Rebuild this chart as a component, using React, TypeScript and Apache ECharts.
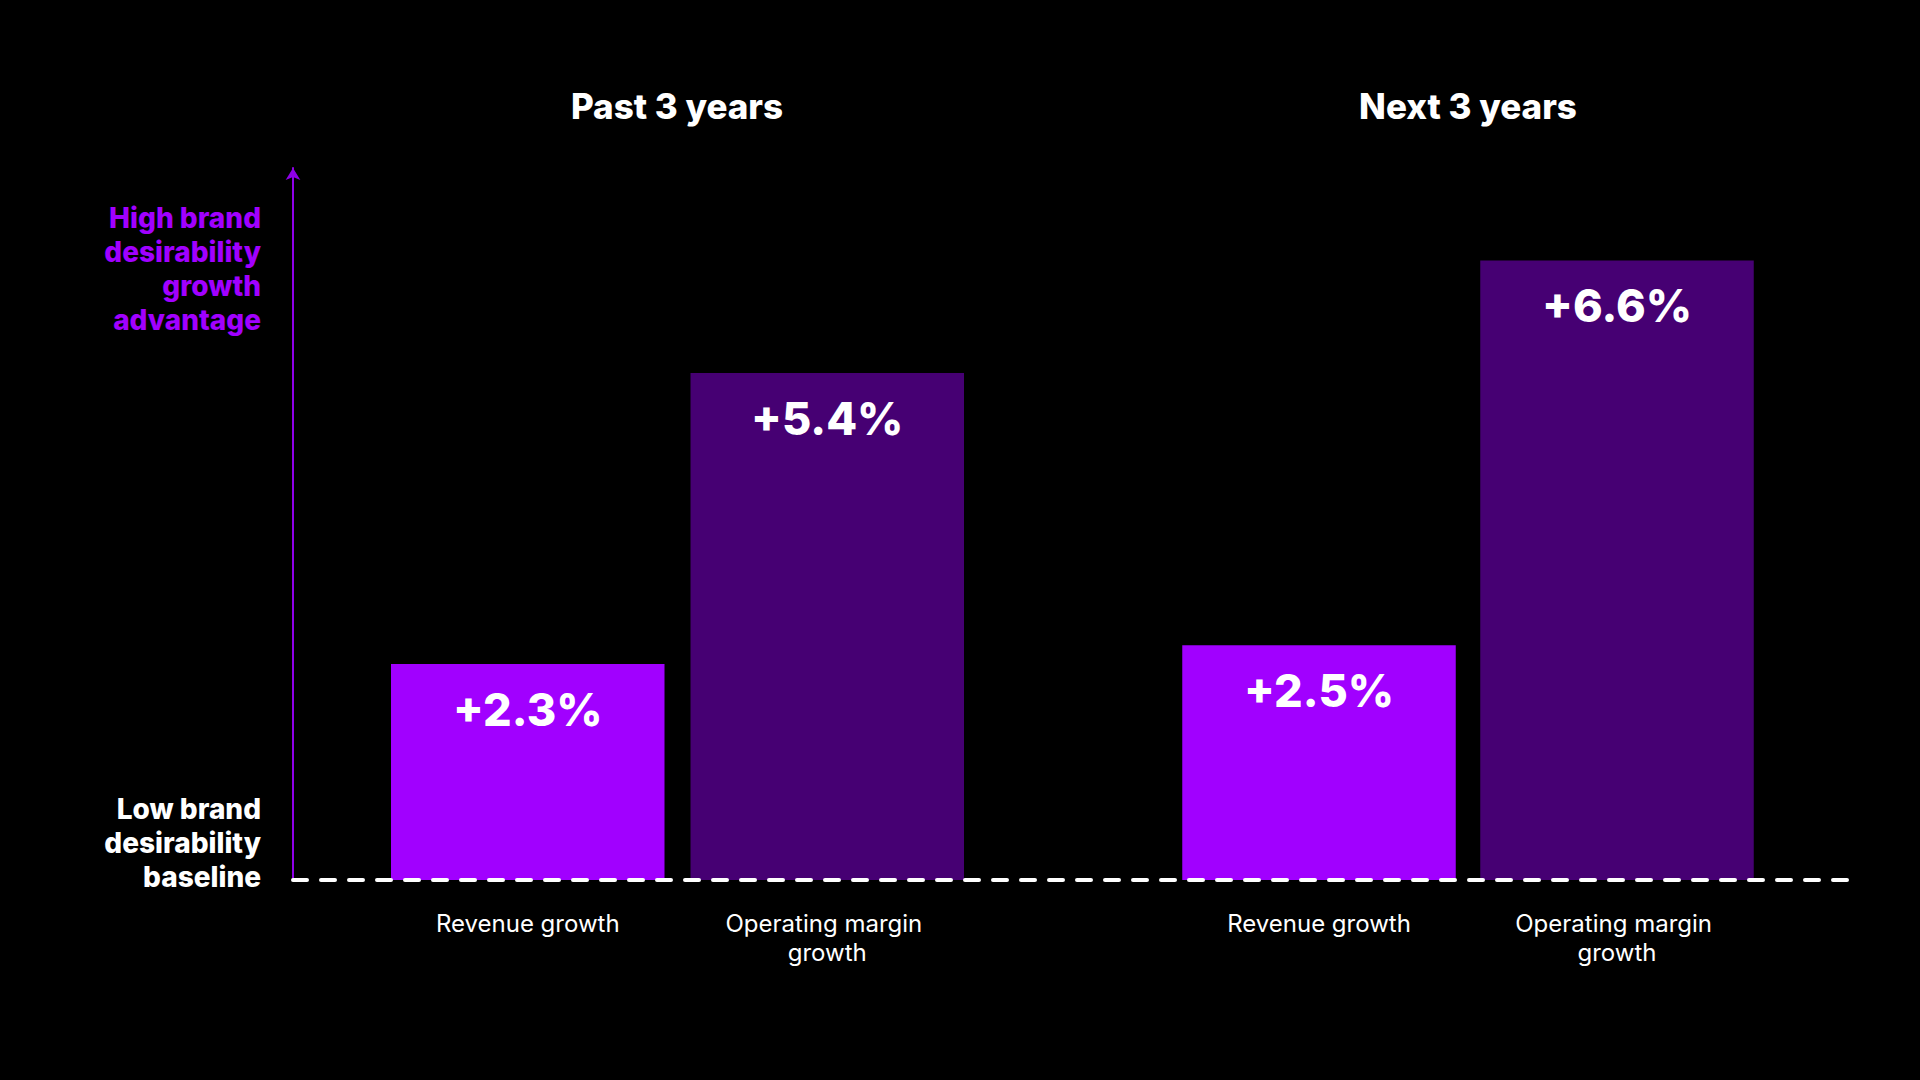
import React, { useEffect, useRef } from "react";
import * as echarts from "echarts";

// ---- data ----
const groups = ["Past 3 years", "Next 3 years"];
const metrics = ["Revenue growth", "Operating margin growth"];
const pastValues = [2.3, 5.4];
const nextValues = [2.5, 6.6];
const metricColors = ["#A100FF", "#460073"];
const highLabelLines = ["High brand", "desirability", "growth", "advantage"];
const lowLabelLines = ["Low brand", "desirability", "baseline"];
const yMax = 7.5;

const BOLD = "Inter, 'Noto Sans', sans-serif";
const REG = "Inter, 'Noto Sans', sans-serif";

export default function App() {
  const ref = useRef<HTMLDivElement>(null);

  useEffect(() => {
    if (!ref.current) return;
    const chart = echarts.init(ref.current, null, { renderer: "svg" });

    const gridTop = 176;
    const gridBottom = 200;

    const barSeries = (vals: number[], idx: number) => ({
      type: "bar",
      name: groups[idx],
      xAxisIndex: idx,
      yAxisIndex: idx,
      barWidth: 273.5,
      data: vals.map((v, i) => ({ value: v, itemStyle: { color: metricColors[i] } })),
      label: {
        show: true,
        position: "insideTop",
        distance: 23,
        color: "#ffffff",
        fontFamily: BOLD,
        fontWeight: 800,
        fontSize: 45,
        formatter: (p: any) => "+" + Number(p.value).toFixed(1) + "%",
      },
      z: 2,
    });

    const catAxis = (gridIndex: number) => ({
      type: "category",
      gridIndex,
      data: metrics,
      axisLine: { show: false },
      axisTick: { show: false },
      axisLabel: {
        color: "#ffffff",
        fontFamily: REG,
        fontWeight: 400,
        fontSize: 24,
        lineHeight: 29,
        margin: 29,
        width: 230,
        overflow: "break",
        interval: 0,
      },
    });

    const hiddenY = (gridIndex: number) => ({
      type: "value",
      gridIndex,
      min: 0,
      max: yMax,
      show: false,
      splitLine: { show: false },
    });

    chart.setOption({
      animation: false,
      backgroundColor: "#000000",
      grid: [
        { left: 378, width: 599, top: gridTop, bottom: gridBottom },
        { left: 1170, width: 596, top: gridTop, bottom: gridBottom },
        { left: 293, right: 68, top: 168, bottom: gridBottom },
      ],
      xAxis: [
        catAxis(0),
        catAxis(1),
        {
          type: "category",
          gridIndex: 2,
          data: [""],
          z: 10,
          axisLine: {
            show: true,
            lineStyle: { color: "#ffffff", width: 4, type: [14, 14] },
          },
          axisTick: { show: false },
          axisLabel: { show: false },
        },
      ],
      yAxis: [
        hiddenY(0),
        hiddenY(1),
        {
          type: "value",
          gridIndex: 2,
          min: 0,
          max: yMax,
          axisLine: {
            show: true,
            symbol: ["none", "arrow"],
            symbolSize: [11, 12],
            lineStyle: { color: "#8F00E8", width: 2 },
          },
          axisTick: { show: false },
          axisLabel: { show: false },
          splitLine: { show: false },
        },
      ],
      series: [barSeries(pastValues, 0), barSeries(nextValues, 1)],
      graphic: [
        {
          type: "text",
          x: 677,
          y: 106,
          style: {
            text: groups[0],
            fill: "#ffffff",
            font: `800 35px ${BOLD}`,
            textAlign: "center",
            textVerticalAlign: "middle",
          },
        },
        {
          type: "text",
          x: 1468,
          y: 106,
          style: {
            text: groups[1],
            fill: "#ffffff",
            font: `800 35px ${BOLD}`,
            textAlign: "center",
            textVerticalAlign: "middle",
          },
        },
        {
          type: "text",
          x: 261,
          y: 269,
          style: {
            text: highLabelLines.join("\n"),
            fill: "#A100FF",
            font: `800 28px ${BOLD}`,
            lineHeight: 34,
            textAlign: "right",
            textVerticalAlign: "middle",
          },
        },
        {
          type: "text",
          x: 261,
          y: 843,
          style: {
            text: lowLabelLines.join("\n"),
            fill: "#ffffff",
            font: `800 28px ${BOLD}`,
            lineHeight: 34,
            textAlign: "right",
            textVerticalAlign: "middle",
          },
        },
      ],
    });

    return () => chart.dispose();
  }, []);

  return (
    <div
      ref={ref}
      style={{
        position: "fixed",
        left: 0,
        top: 0,
        width: 1920,
        height: 1080,
        background: "#000000",
      }}
    />
  );
}
